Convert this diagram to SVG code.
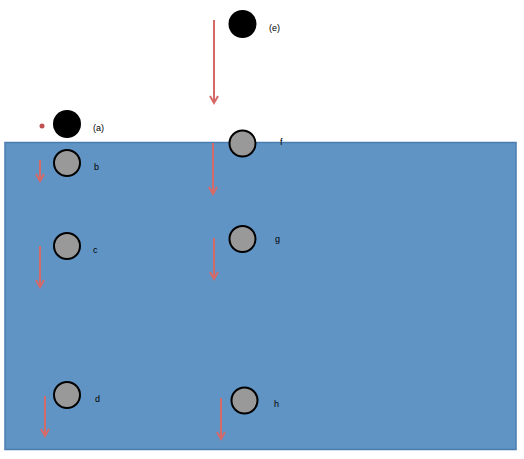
<svg xmlns="http://www.w3.org/2000/svg" width="524" height="459" viewBox="0 0 524 459">
<style>
.ball{fill:#000}
.disc{fill:#999;stroke:#000;stroke-width:2}
.lbl{font-family:"Liberation Sans",Arial,sans-serif;font-size:9px;fill:#000}
.arr{stroke:#D46A68;stroke-width:2;fill:none;marker-end:url(#ah)}
</style>
<defs>
<marker id="ah" viewBox="0 0 10 10" refX="8" refY="5" markerWidth="5" markerHeight="5" markerUnits="strokeWidth" orient="auto">
<path d="M1,1 L8,5 L1,9" fill="none" stroke="#D46A68" stroke-width="2"/>
</marker>
</defs>
<rect id="water" x="5" y="142.5" width="511" height="307" fill="#6094C5" stroke="#4A7CB0" stroke-width="1.5"/>
<g id="connectors">
<line class="arr" x1="214" y1="20" x2="214" y2="103"/>
<line class="arr" x1="40" y1="160" x2="40" y2="181"/>
<line class="arr" x1="40" y1="246" x2="40" y2="287"/>
<line class="arr" x1="45" y1="396" x2="45" y2="436"/>
<line class="arr" x1="213" y1="143" x2="213" y2="194"/>
<line class="arr" x1="214" y1="238" x2="214" y2="279"/>
<line class="arr" x1="221" y1="398" x2="221" y2="439"/>
</g>
<g id="node-a">
<circle cx="42" cy="126" r="2.5" fill="#C0504D"/>
<circle class="ball" cx="67" cy="124" r="14"/>
<text class="lbl" x="93" y="131">(a)</text>
</g>
<g id="node-b">
<circle class="disc" cx="67" cy="163" r="13"/>
<text class="lbl" x="94" y="170">b</text>
</g>
<g id="node-c">
<circle class="disc" cx="67" cy="246" r="13"/>
<text class="lbl" x="93" y="253">c</text>
</g>
<g id="node-d">
<circle class="disc" cx="67" cy="395" r="13"/>
<text class="lbl" x="95" y="402">d</text>
</g>
<g id="node-e">
<circle class="ball" cx="242.5" cy="24" r="14"/>
<text class="lbl" x="269" y="31">(e)</text>
</g>
<g id="node-f">
<circle class="disc" cx="242.5" cy="143.5" r="13"/>
<text class="lbl" x="280" y="145">f</text>
</g>
<g id="node-g">
<circle class="disc" cx="242.5" cy="239" r="13"/>
<text class="lbl" x="275" y="242">g</text>
</g>
<g id="node-h">
<circle class="disc" cx="244.5" cy="400.5" r="13"/>
<text class="lbl" x="274" y="407">h</text>
</g>
</svg>
